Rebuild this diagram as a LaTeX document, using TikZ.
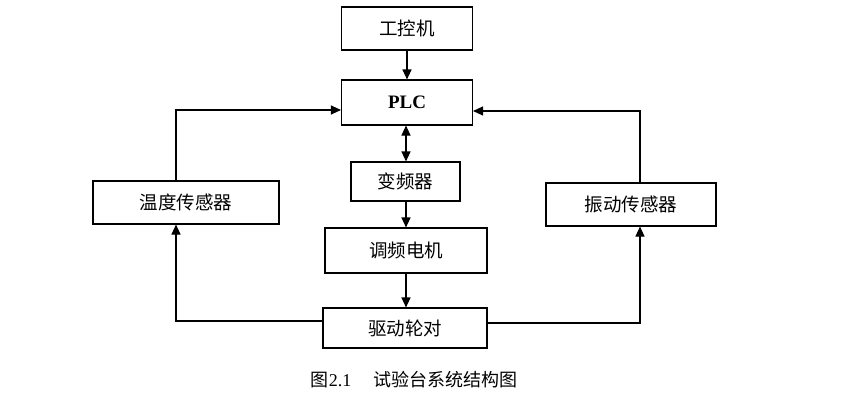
\documentclass[tikz,border=0pt]{standalone}
\usepackage{fontspec}
\setmainfont{Liberation Serif}
\newfontfamily\cjk{Noto Sans CJK SC}
\usetikzlibrary{arrows.meta}
\begin{document}
\begin{tikzpicture}[x=1pt,y=-1pt,
  box/.style={draw,line width=1.1pt,inner sep=0pt,font=\cjk\fontsize{18.5}{20}\selectfont},
  arr/.style={line width=1.1pt,-{Triangle[length=10pt,width=9pt]}},
  darr/.style={line width=1.1pt,{Triangle[length=10pt,width=9pt]}-{Triangle[length=10pt,width=9pt]}},
  ln/.style={line width=1.1pt}]
\useasboundingbox (0,0) rectangle (844,400);
\node[box,minimum width=131pt,minimum height=43pt] (ipc) at (407,28.5) {工控机};
\node[box,minimum width=131pt,minimum height=45pt,font=\bfseries\fontsize{19}{20}\selectfont] (plc) at (407,102.5) {PLC};
\node[box,minimum width=109pt,minimum height=39pt] (vfd) at (405.5,181.5) {变频器};
\node[box,minimum width=162pt,minimum height=45pt] (mot) at (406,250.5) {调频电机};
\node[box,minimum width=164pt,minimum height=40pt] (drv) at (405,328) {驱动轮对};
\node[box,minimum width=186pt,minimum height=43pt] (temp) at (186,202.5) {温度传感器};
\node[box,minimum width=170pt,minimum height=43pt] (vib) at (631,204.5) {振动传感器};
\node[font=\cjk\fontsize{18}{20}\selectfont,anchor=center] (cap) at (414,380) {图{\rmfamily 2.1}\hspace{22pt}试验台系统结构图};
\coordinate (tl) at (176,110);
\coordinate (tb) at (176,321);
\coordinate (vt) at (640,111);
\coordinate (vb) at (640,323);
\coordinate (ax) at (407,0);
\coordinate (bx) at (406,0);
\draw[arr] (ipc.south -| ax) -- (plc.north -| ax);
\draw[darr] (plc.south -| bx) -- (vfd.north -| bx);
\draw[arr] (vfd.south -| bx) -- (mot.north -| bx);
\draw[arr] (mot.south -| bx) -- (drv.north -| bx);
\draw[arr] (temp.north -| tl) -- (tl) -- (tl -| plc.west);
\draw[arr] (vib.north -| vt) -- (vt) -- (vt -| plc.east);
\draw[arr] (drv.west |- tb) -- (tb) -- (temp.south -| tb);
\draw[arr] (drv.east |- vb) -- (vb) -- (vib.south -| vb);
\end{tikzpicture}
\end{document}
